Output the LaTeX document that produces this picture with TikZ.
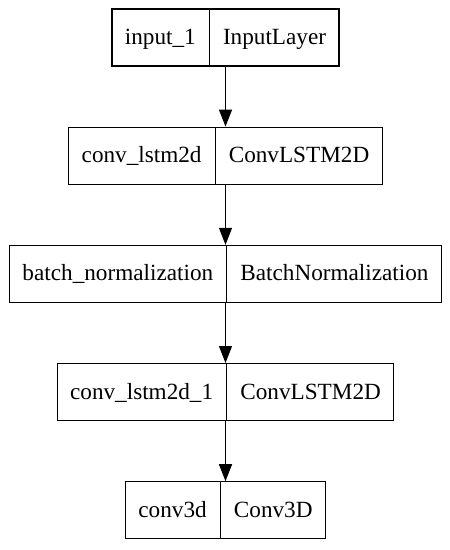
\documentclass[tikz,border=0pt]{standalone}
\usepackage{fontspec}
\setmainfont{Liberation Serif}
\usetikzlibrary{arrows.meta, positioning, shapes.multipart}

\newcommand{\lstrut}{\vrule width 0pt height 19.5pt depth 5.5pt}

\begin{document}
\begin{tikzpicture}[>={Triangle[length=17pt,width=13pt]}, line width=1.2pt, x=1pt, y=1pt,
  node distance=60pt,
  layer/.style={draw, rectangle split, rectangle split horizontal, rectangle split parts=2,
    inner xsep=13pt, inner ysep=16pt, font=\fontsize{23.2}{27}\selectfont}]

\useasboundingbox[fill=white] (0,0) rectangle (450,-550);

% Layers of the model, one box each
\node[layer] (input) at (225.5,-37.5) {\lstrut input\_1 \nodepart{two} \lstrut InputLayer};
\node[layer, below=of input] (lstma) {\lstrut conv\_lstm2d \nodepart{two} \lstrut ConvLSTM2D};
\node[layer, below=of lstma] (batchnorm) {\lstrut batch\_normalization \nodepart{two} \lstrut BatchNormalization};
\node[layer, below=of batchnorm] (lstmb) {\lstrut conv\_lstm2d\_1 \nodepart{two} \lstrut ConvLSTM2D};
\node[layer, below=of lstmb] (convthree) {\lstrut conv3d \nodepart{two} \lstrut Conv3D};

% Arrows between layers
\draw[->] (input.south) -- (lstma.north);
\draw[->] (lstma.south) -- (batchnorm.north);
\draw[->] (batchnorm.south) -- (lstmb.north);
\draw[->] (lstmb.south) -- (convthree.north);

\end{tikzpicture}
\end{document}
